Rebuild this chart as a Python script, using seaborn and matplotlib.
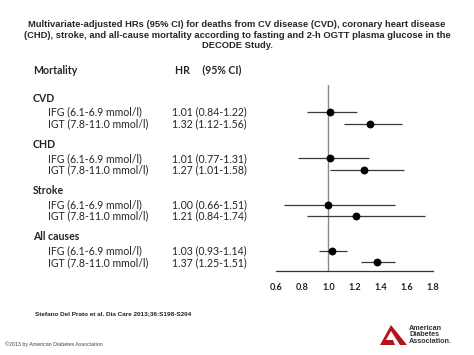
import matplotlib
matplotlib.use("Agg")
import matplotlib.pyplot as plt
import seaborn as sns
import pandas as pd
import numpy as np
from matplotlib.patches import Polygon
import matplotlib.transforms as mtransforms

# ---- data ----
groups = ["CVD", "CHD", "Stroke", "All causes"]
subgroups = ["IFG (6.1-6.9 mmol/l)", "IGT (7.8-11.0 mmol/l)"]
hr = [1.01, 1.32, 1.01, 1.27, 1.00, 1.21, 1.03, 1.37]
lo = [0.84, 1.12, 0.77, 1.01, 0.66, 0.84, 0.93, 1.25]
hi = [1.22, 1.56, 1.31, 1.58, 1.51, 1.74, 1.14, 1.51]
hr_labels = ["1.01 (0.84-1.22)", "1.32 (1.12-1.56)",
             "1.01 (0.77-1.31)", "1.27 (1.01-1.58)",
             "1.00 (0.66-1.51)", "1.21 (0.84-1.74)",
             "1.03 (0.93-1.14)", "1.37 (1.25-1.51)"]
xticks = [0.6, 0.8, 1.0, 1.2, 1.4, 1.6, 1.8]
title = ("Multivariate-adjusted HRs (95% CI) for deaths from CV disease (CVD), coronary heart disease\n"
         "(CHD), stroke, and all-cause mortality according to fasting and 2-h OGTT plasma glucose in the\n"
         "DECODE Study.")

# ---- layout (row positions in layout units) ----
group_step = 46.3
offsets = [14.0, 25.5]
header_y = [g * group_step for g in range(len(groups))]
row_y = [g * group_step + o for g in range(len(groups)) for o in offsets]

df = pd.DataFrame({
    "hr": hr, "lo": lo, "hi": hi, "y": row_y,
    "label": [s for _ in groups for s in subgroups],
    "hrtxt": hr_labels,
})

sns.set_style("white")
plt.rcParams["font.family"] = ["Lato", "DejaVu Sans"]

W, H = 474, 355
fig = plt.figure(figsize=(W / 100, H / 100), dpi=100)
ax = fig.add_axes([276 / W, 1 - 271 / H, (433 - 276) / W, (271 - 85) / H])

ax.set_xlim(0.6, 1.8)
ax.set_ylim(173, -13)

ax.axvline(1.0, color="#8a8a8a", lw=1.0, zorder=1)
ax.hlines(df["y"], df["lo"], df["hi"], color="#3a3a3a", lw=0.9, zorder=2)
sns.scatterplot(data=df, x="hr", y="y", ax=ax, color="black", s=32,
                edgecolor="black", linewidth=0, zorder=3, legend=False)

for s in ["top", "right", "left"]:
    ax.spines[s].set_visible(False)
ax.spines["bottom"].set_color("#333333")
ax.spines["bottom"].set_linewidth(0.9)
ax.set_xticks(xticks)
ax.set_xticklabels([f"{t:.1f}" for t in xticks], fontsize=6.6, fontweight="bold",
                   color="#222222")
ax.tick_params(axis="x", direction="out", length=3, width=0.8, color="#333333", pad=6)
ax.set_yticks([])
ax.set_xlabel("")
ax.set_ylabel("")

# table text
tr = mtransforms.blended_transform_factory(fig.transFigure, ax.transData)
x_name = 33 / W
x_sub = 48 / W
x_hr = 172 / W
fs = 7.6
ax.text(x_name, -28, "Mortality", transform=tr, fontsize=fs, fontweight="bold",
        va="center", ha="left", clip_on=False)
ax.text(175 / W, -28, "HR     (95% CI)", transform=tr, fontsize=fs, fontweight="bold",
        va="center", ha="left", clip_on=False)
for g, yg in zip(groups, header_y):
    ax.text(x_name, yg, g, transform=tr, fontsize=fs, fontweight="bold",
            va="center", ha="left", clip_on=False)
for _, r in df.iterrows():
    ax.text(x_sub, r["y"], r["label"], transform=tr, fontsize=fs,
            va="center", ha="left", clip_on=False)
    ax.text(x_hr, r["y"], r["hrtxt"], transform=tr, fontsize=fs,
            va="center", ha="left", clip_on=False)

# title
fig.text(0.5, 1 - 35 / H, title, ha="center", va="center", fontsize=6.75,
         fontweight="bold", family="Liberation Sans", linespacing=1.15)

# footer
fig.text(35 / W, 1 - 314 / H, "Stefano Del Prato et al. Dia Care 2013;36:S198-S204",
         ha="left", va="center", fontsize=4.6, fontweight="bold",
         family="Liberation Sans", color="#222222")
fig.text(5 / W, 1 - 344 / H, "\u00a92013 by American Diabetes Association",
         ha="left", va="center", fontsize=3.8, family="Liberation Sans", color="#444444")

# logo
tri = Polygon([[380 / W, 1 - 345 / H], [391 / W, 1 - 325 / H], [407 / W, 1 - 345 / H],
               [400 / W, 1 - 345 / H], [391 / W, 1 - 331 / H], [386 / W, 1 - 340 / H],
               [393 / W, 1 - 340 / H], [395 / W, 1 - 345 / H]],
              closed=True, transform=fig.transFigure, facecolor="#b5121b",
              edgecolor="none")
fig.patches.append(tri)
fig.text(409 / W, 1 - 335 / H, "American\nDiabetes\nAssociation.", ha="left", va="center",
         fontsize=5.2, fontweight="bold", family="Liberation Sans", color="#333333",
         linespacing=0.95)

fig.savefig("out.png", dpi=100)
